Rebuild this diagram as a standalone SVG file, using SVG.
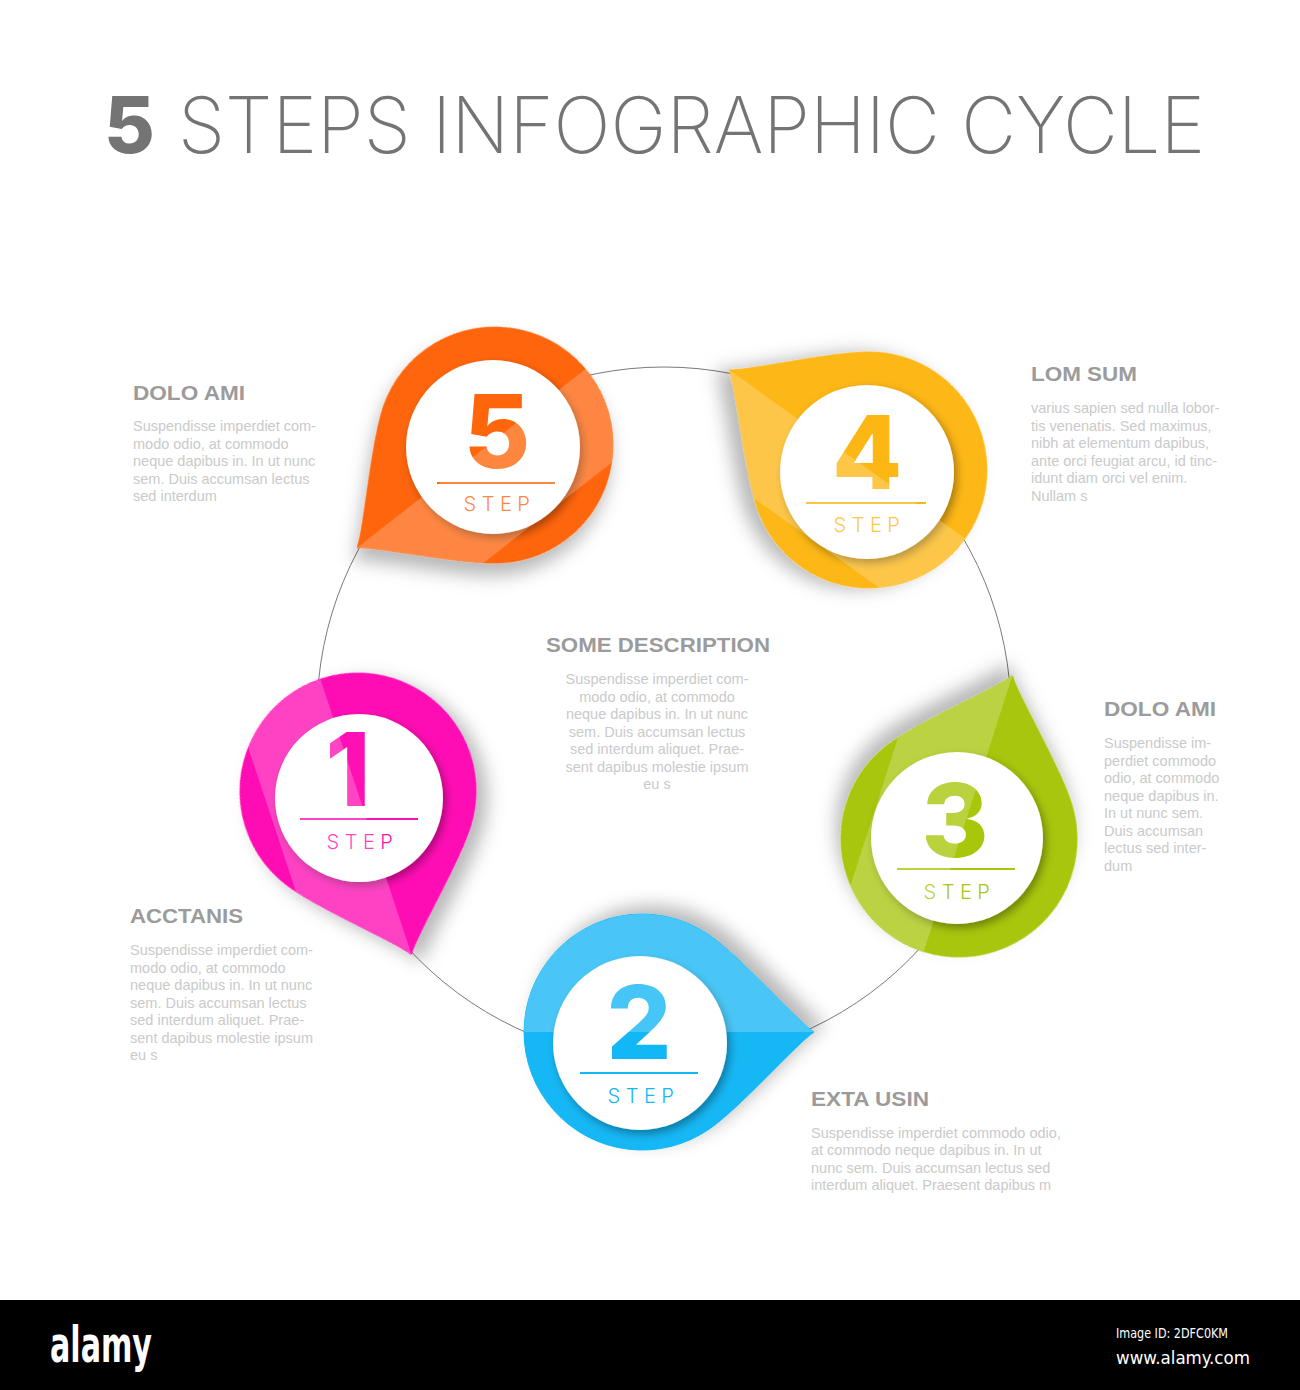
<svg xmlns="http://www.w3.org/2000/svg" xmlns:xlink="http://www.w3.org/1999/xlink" width="1300" height="1390" viewBox="0 0 1300 1390">
<style>
.pin{filter:url(#sh)}
.disc{fill:#fff;filter:url(#dsh)}
.num{font-family:Inter,"Liberation Sans",sans-serif;font-weight:800;font-size:102px;text-anchor:middle}
.stp{font-family:Inter,"Liberation Sans",sans-serif;font-weight:300;font-size:20px;letter-spacing:5.5px;text-anchor:middle}
.ln{stroke-width:2}
.gl{fill:#fff;opacity:.22}
.h{font-family:"Liberation Sans",Arial,sans-serif;font-weight:bold;font-size:20px;fill:#9b9b9b}
.b{font-family:"Liberation Sans",Arial,sans-serif;font-size:14.5px;fill:#cacaca}
.c{text-anchor:middle}
.o{fill:#FF650A;stroke:#FF650A}
.y{fill:#FDB714;stroke:#FDB714}
.g{fill:#A8C60A;stroke:#A8C60A}
.bl{fill:#12B7F5;stroke:#12B7F5}
.m{fill:#FF10B4;stroke:#FF10B4}
text.o,text.y,text.g,text.bl,text.m{stroke:none}
</style>
<defs>
<path id="pinShape" d="M0,172 C12,154 74,100 96.7,67.7 A118,118 0 1 0 -96.7,67.7 C-74,100 -12,154 0,172 Z"/>
<filter id="sh" x="-30%" y="-30%" width="170%" height="170%">
<feDropShadow dx="8" dy="10" stdDeviation="9" flood-color="#000" flood-opacity="0.28"/>
</filter>
<filter id="dsh" x="-30%" y="-30%" width="170%" height="170%">
<feDropShadow dx="3" dy="4" stdDeviation="4" flood-color="#000" flood-opacity="0.35"/>
</filter>
<clipPath id="c5"><use xlink:href="#pinShape" transform="translate(495,445) rotate(53.3)"/></clipPath>
<clipPath id="c4"><use xlink:href="#pinShape" transform="translate(869,470) rotate(125.6)"/></clipPath>
<clipPath id="c3"><use xlink:href="#pinShape" transform="translate(959,839) rotate(198.1)"/></clipPath>
<clipPath id="c2"><use xlink:href="#pinShape" transform="translate(642,1032) rotate(-90)"/></clipPath>
<clipPath id="c1"><use xlink:href="#pinShape" transform="translate(358,791) rotate(-18.1)"/></clipPath>
</defs>
<rect width="1300" height="1390" fill="#fff"/>

<g id="title" fill="#747474">
<text x="104" y="153" font-family="Inter,'Liberation Sans',sans-serif" font-weight="800" font-size="78">5</text>
<text x="178" y="153" font-family="Inter,'Liberation Sans',sans-serif" font-weight="200" font-size="78" textLength="1027" lengthAdjust="spacingAndGlyphs">STEPS INFOGRAPHIC CYCLE</text>
</g>

<g id="connectors">
<circle cx="664" cy="714" r="347" fill="none" stroke="#7a7a7a" stroke-width="1"/>
</g>

<g id="step5">
<use xlink:href="#pinShape" class="pin o" transform="translate(495,445) rotate(53.3)"/>
<circle class="disc" cx="493" cy="447" r="87"/>
<text class="num o" x="497" y="468">5</text>
<line class="ln o" x1="437" y1="483" x2="555" y2="483"/>
<text class="stp o" x="499.5" y="511">STEP</text>
<polygon class="gl" clip-path="url(#c5)" points="121.9,731.8 672.8,300.6 728.2,371.4 177.3,802.6"/>
</g>

<g id="step4">
<use xlink:href="#pinShape" class="pin y" transform="translate(869,470) rotate(125.6)"/>
<circle class="disc" cx="867" cy="472" r="87"/>
<text class="num y" x="867" y="489">4</text>
<line class="ln y" x1="806" y1="503" x2="926" y2="503"/>
<text class="stp y" x="869.5" y="532">STEP</text>
<polygon class="gl" clip-path="url(#c4)" points="487.8,197.7 1057.6,604.4 1005.3,677.7 435.5,271"/>
</g>

<g id="step3">
<use xlink:href="#pinShape" class="pin g" transform="translate(959,839) rotate(198.1)"/>
<circle class="disc" cx="957" cy="838" r="86"/>
<text class="num g" x="955" y="857">3</text>
<line class="ln g" x1="897" y1="869" x2="1015" y2="869"/>
<text class="stp g" x="959.5" y="899">STEP</text>
<polygon class="gl" clip-path="url(#c3)" points="1103.8,391.4 889.6,1057.8 803.9,1030.3 1018.1,363.9"/>
</g>

<g id="step2">
<use xlink:href="#pinShape" class="pin bl" transform="translate(642,1032) rotate(-90)"/>
<circle class="disc" cx="640" cy="1043" r="87"/>
<text class="num bl" x="639" y="1059">2</text>
<line class="ln bl" x1="580" y1="1073" x2="698" y2="1073"/>
<text class="stp bl" x="643.5" y="1103">STEP</text>
<polygon class="gl" clip-path="url(#c2)" points="1110,1032 410,1032 410,900 1110,900"/>
</g>

<g id="step1">
<use xlink:href="#pinShape" class="pin m" transform="translate(358,791) rotate(-18.1)"/>
<circle class="disc" cx="359" cy="798" r="84"/>
<text class="num m" x="348" y="806">1</text>
<line class="ln m" x1="300" y1="819" x2="418" y2="819"/>
<text class="stp m" x="362.5" y="849">STEP</text>
<polygon class="gl" clip-path="url(#c1)" points="504.2,1234.7 284.4,570.4 199,598.7 418.8,1263"/>
</g>

<g id="text-dolo-ami-left">
<text class="h" x="133" y="400" textLength="112" lengthAdjust="spacingAndGlyphs">DOLO AMI</text>
<text class="b" x="133" y="431">Suspendisse imperdiet com-</text>
<text class="b" x="133" y="449">modo odio, at commodo</text>
<text class="b" x="133" y="466">neque dapibus in. In ut nunc</text>
<text class="b" x="133" y="484">sem. Duis accumsan lectus</text>
<text class="b" x="133" y="501">sed interdum</text>
</g>

<g id="text-lom-sum">
<text class="h" x="1031" y="381" textLength="106" lengthAdjust="spacingAndGlyphs">LOM SUM</text>
<text class="b" x="1031" y="413">varius sapien sed nulla lobor-</text>
<text class="b" x="1031" y="430.5">tis venenatis. Sed maximus,</text>
<text class="b" x="1031" y="448">nibh at elementum dapibus,</text>
<text class="b" x="1031" y="465.5">ante orci feugiat arcu, id tinc-</text>
<text class="b" x="1031" y="483">idunt diam orci vel enim.</text>
<text class="b" x="1031" y="500.5">Nullam s</text>
</g>

<g id="text-some-description">
<text class="h c" x="658" y="652" textLength="224" lengthAdjust="spacingAndGlyphs">SOME DESCRIPTION</text>
<text class="b c" x="657" y="684">Suspendisse imperdiet com-</text>
<text class="b c" x="657" y="702">modo odio, at commodo</text>
<text class="b c" x="657" y="719">neque dapibus in. In ut nunc</text>
<text class="b c" x="657" y="737">sem. Duis accumsan lectus</text>
<text class="b c" x="657" y="754">sed interdum aliquet. Prae-</text>
<text class="b c" x="657" y="772">sent dapibus molestie ipsum</text>
<text class="b c" x="657" y="789">eu s</text>
</g>

<g id="text-dolo-ami-right">
<text class="h" x="1104" y="716" textLength="112" lengthAdjust="spacingAndGlyphs">DOLO AMI</text>
<text class="b" x="1104" y="748">Suspendisse im-</text>
<text class="b" x="1104" y="766">perdiet commodo</text>
<text class="b" x="1104" y="783">odio, at commodo</text>
<text class="b" x="1104" y="801">neque dapibus in.</text>
<text class="b" x="1104" y="818">In ut nunc sem.</text>
<text class="b" x="1104" y="836">Duis accumsan</text>
<text class="b" x="1104" y="853">lectus sed inter-</text>
<text class="b" x="1104" y="871">dum</text>
</g>

<g id="text-acctanis">
<text class="h" x="130" y="923" textLength="113" lengthAdjust="spacingAndGlyphs">ACCTANIS</text>
<text class="b" x="130" y="955">Suspendisse imperdiet com-</text>
<text class="b" x="130" y="973">modo odio, at commodo</text>
<text class="b" x="130" y="990">neque dapibus in. In ut nunc</text>
<text class="b" x="130" y="1008">sem. Duis accumsan lectus</text>
<text class="b" x="130" y="1025">sed interdum aliquet. Prae-</text>
<text class="b" x="130" y="1043">sent dapibus molestie ipsum</text>
<text class="b" x="130" y="1060">eu s</text>
</g>

<g id="text-exta-usin">
<text class="h" x="811" y="1106" textLength="118" lengthAdjust="spacingAndGlyphs">EXTA USIN</text>
<text class="b" x="811" y="1138">Suspendisse imperdiet commodo odio,</text>
<text class="b" x="811" y="1155">at commodo neque dapibus in. In ut</text>
<text class="b" x="811" y="1173">nunc sem. Duis accumsan lectus sed</text>
<text class="b" x="811" y="1190">interdum aliquet. Praesent dapibus m</text>
</g>

<g id="footer">
<rect x="0" y="1300" width="1300" height="90" fill="#000"/>
<text x="50" y="1362" fill="#fff" font-family="'DejaVu Sans Condensed','DejaVu Sans',sans-serif" font-weight="bold" font-size="50" textLength="102" lengthAdjust="spacingAndGlyphs">alamy</text>
<text x="1116" y="1338" fill="#fff" font-family="'DejaVu Sans Condensed','DejaVu Sans',sans-serif" font-size="14" textLength="112" lengthAdjust="spacingAndGlyphs">Image ID: 2DFC0KM</text>
<text x="1116" y="1364" fill="#fff" font-family="'DejaVu Sans Condensed','DejaVu Sans',sans-serif" font-size="18" textLength="134" lengthAdjust="spacingAndGlyphs">www.alamy.com</text>
</g>
</svg>
